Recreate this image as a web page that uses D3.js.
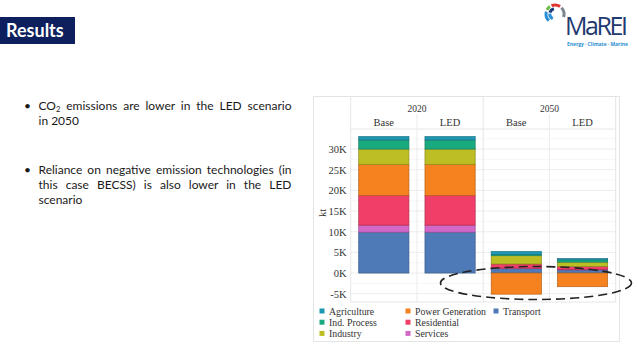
<!DOCTYPE html>
<html>
<head>
<meta charset="utf-8">
<script src="https://cdn.jsdelivr.net/npm/d3@7"></script>
<style>
  body { margin:0; background:#fff; width:638px; height:359px; overflow:hidden; position:relative; font-family: Lato, "Open Sans", sans-serif; }
  #title { position:absolute; left:0; top:17px; width:75px; height:27px; background:#0d1f5c; color:#fff; font-weight:bold; font-size:18px; line-height:27px; padding-left:6px; box-sizing:border-box; }
  .ln { position:absolute; left:38.5px; width:253px; font-size:12px; line-height:15px; height:15px; color:#1a1a1a; white-space:nowrap; text-align:left; }
  .j { text-align:justify; text-align-last:justify; }
  .dot { position:absolute; left:24px; font-size:12px; line-height:15px; color:#1a1a1a; }
  sub { font-size:7.5px; line-height:0; vertical-align:-2px; }
  svg { position:absolute; left:0; top:0; }
</style>
</head>
<body>
<div id="title">Results</div>
<div class="dot" style="top:98px;">•</div>
<div class="ln j" style="top:98px;">CO<sub>2</sub> emissions are lower in the LED scenario</div>
<div class="ln" style="top:113px;">in 2050</div>
<div class="dot" style="top:162px;">•</div>
<div class="ln j" style="top:162px;">Reliance on negative emission technologies (in</div>
<div class="ln j" style="top:177px;">this case BECSS) is also lower in the LED</div>
<div class="ln" style="top:192px;">scenario</div>
<svg id="chart" width="638" height="359"></svg>
<script>
// ---- data ----
const years = ["2020", "2050"];
const scenarios = ["Base", "LED"];
const sectors = ["Transport", "Services", "Residential", "Power Generation", "Industry", "Ind. Process", "Agriculture"];
// values in kt (thousands), order: 2020 Base, 2020 LED, 2050 Base, 2050 LED
const transport   = [9.9, 9.9, 1.05, 0.75];
const services    = [1.7, 1.7, 0.15, 0.15];
const residential = [7.2, 7.2, 1.0, 0.7];
const powerGen    = [7.5, 7.5, -5.1, -3.3];
const industry    = [3.7, 3.7, 2.0, 1.05];
const indProcess  = [2.2, 2.2, 0.3, 0.55];
const agriculture = [0.8, 0.8, 0.7, 0.3];
const yTicks = [-5, 0, 5, 10, 15, 20, 25, 30];
const legendOrder = ["Agriculture", "Ind. Process", "Industry", "Power Generation", "Residential", "Services", "Transport"];

const seriesValues = {
  "Transport": transport, "Services": services, "Residential": residential,
  "Power Generation": powerGen, "Industry": industry, "Ind. Process": indProcess, "Agriculture": agriculture
};
const colors = {
  "Agriculture": "#1e97b3", "Ind. Process": "#1aaa80", "Industry": "#bdbd24",
  "Power Generation": "#f5821f", "Residential": "#ef3e68", "Services": "#d268c8", "Transport": "#4e7ab8"
};

const svg = d3.select("#chart");

// panel frame
svg.append("rect").attr("x", 313.5).attr("y", 96.5).attr("width", 306).attr("height", 245)
  .attr("fill", "#fff").attr("stroke", "#e4e4e4");

const plotL = 350.7, plotR = 615.7, plotT = 129, plotB = 302;
const fx = d3.scaleBand().domain(years).range([plotL, plotR]);
const sx = d3.scaleBand().domain(scenarios).range([0, fx.bandwidth()]).paddingInner(0.242).paddingOuter(0.121);
const y = d3.scaleLinear().domain([-7.0, 34.85]).range([plotB, plotT]);

const grid = svg.append("g");
grid.selectAll("line.h").data(yTicks).join("line")
  .attr("x1", plotL).attr("x2", plotR).attr("y1", d => y(d)).attr("y2", d => y(d))
  .attr("stroke", "#ececec").attr("stroke-width", 1);
grid.selectAll("line.hm").data(yTicks.map(d => d + 2.5)).join("line")
  .attr("x1", plotL).attr("x2", plotR).attr("y1", d => y(d)).attr("y2", d => y(d))
  .attr("stroke", "#f6f6f6").attr("stroke-width", 1);
[plotT, plotB].forEach(v => grid.append("line").attr("x1", plotL).attr("x2", plotR).attr("y1", v).attr("y2", v).attr("stroke", "#e6e6e6"));
const facetEdges = [plotL, fx("2050"), plotR];
facetEdges.forEach(v => grid.append("line").attr("x1", v).attr("x2", v).attr("y1", 97).attr("y2", plotB).attr("stroke", "#e6e6e6"));
years.forEach(yr => {
  const xv = fx(yr) + fx.step() / 2;
  grid.append("line").attr("x1", xv).attr("x2", xv).attr("y1", 114).attr("y2", plotB).attr("stroke", "#ececec");
});

// headers
const serif = "'Liberation Serif', 'DejaVu Serif', serif";
years.forEach(yr => {
  svg.append("text").attr("x", fx(yr) + fx.bandwidth() / 2).attr("y", 111.5)
    .attr("text-anchor", "middle").attr("font-family", serif).attr("font-size", 9.5).attr("fill", "#333").text(yr);
  scenarios.forEach(sc => {
    svg.append("text").attr("x", fx(yr) + sx(sc) + sx.bandwidth() / 2).attr("y", 126)
      .attr("text-anchor", "middle").attr("font-family", serif).attr("font-size", 10.5).attr("fill", "#333").text(sc);
  });
});

// y axis
const yAxis = d3.axisLeft(y).tickValues(yTicks).tickSize(0).tickPadding(4).tickFormat(d => d + "K");
const ga = svg.append("g").attr("transform", `translate(${plotL},0)`).call(yAxis);
ga.select(".domain").remove();
ga.selectAll("text").attr("font-family", serif).attr("font-size", 10.5).attr("fill", "#333");
svg.append("text").attr("transform", `translate(326,213) rotate(-90)`).attr("text-anchor", "middle")
  .attr("font-family", serif).attr("font-size", 10.5).attr("fill", "#333").text("kt");

// bars
const combos = [];
years.forEach(yr => scenarios.forEach(sc => combos.push({ yr, sc })));
combos.forEach((c, i) => {
  let pos = 0, neg = 0;
  sectors.forEach(s => {
    const v = seriesValues[s][i];
    let y0, y1;
    if (v >= 0) { y0 = pos; y1 = pos + v; pos = y1; }
    else { y0 = neg + v; y1 = neg; neg = y0; }
    svg.append("rect")
      .attr("x", fx(c.yr) + sx(c.sc)).attr("width", sx.bandwidth())
      .attr("y", y(y1)).attr("height", y(y0) - y(y1))
      .attr("fill", colors[s]).attr("stroke", d3.color(colors[s]).darker(0.8)).attr("stroke-width", 0.7);
  });
});

// dashed highlight ellipse
svg.append("ellipse").attr("cx", 536).attr("cy", 283).attr("rx", 95.5).attr("ry", 16.5)
  .attr("fill", "none").attr("stroke", "#222").attr("stroke-width", 1.6).attr("stroke-dasharray", "9,5");

// legend
const legCols = [[0, 1, 2], [3, 4, 5], [6]];
const colX = [322, 408, 496];
legCols.forEach((col, ci) => col.forEach((li, ri) => {
  const name = legendOrder[li];
  const yy = 311 + ri * 11.2;
  svg.append("rect").attr("x", colX[ci] - 2.5).attr("y", yy - 2.5).attr("width", 5).attr("height", 5).attr("fill", colors[name]);
  svg.append("text").attr("x", colX[ci] + 7).attr("y", yy + 3.5).attr("font-family", serif).attr("font-size", 9.8)
    .attr("fill", "#333").text(name);
}));

// logo
const lg = svg.append("g");
const arc = d3.arc();
const cx = 555, cy = 14;
[[-2.4, -1.3, 9, "#2b8fd4"], [-1.1, -0.6, 9, "#6cbd45"], [-0.4, 0.6, 9, "#e2362c"], [0.8, 1.9, 9, "#7d8790"],
 [-2.7, -1.5, 5.2, "#2b8fd4"], [-1.3, -0.2, 5.2, "#1c3f7a"]].forEach(a => {
  lg.append("path").attr("transform", `translate(${cx},${cy})`)
    .attr("d", arc({ innerRadius: a[2] - 1.5, outerRadius: a[2] + 1.5, startAngle: a[0], endAngle: a[1] }))
    .attr("fill", a[3]);
});
lg.append("text").attr("x", 565).attr("y", 35).attr("font-family", "'Open Sans', Lato, sans-serif").attr("font-size", 25)
  .attr("fill", "#1f3a70").attr("textLength", 63).text("MaREI");
lg.append("text").attr("x", 567).attr("y", 46).attr("font-family", "'Open Sans', Lato, sans-serif").attr("font-size", 5)
  .attr("font-weight", "bold").attr("fill", "#2b8fd4").attr("textLength", 61).text("Energy · Climate · Marine");
</script>
</body>
</html>
